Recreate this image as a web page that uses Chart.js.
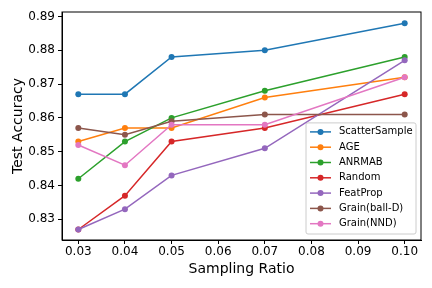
<!DOCTYPE html>
<html>
<head>
<meta charset="utf-8">
<script src="https://cdn.jsdelivr.net/npm/chart.js@4"></script>
<style>
  html, body { margin: 0; padding: 0; background: #fff; }
  #wrap { width: 432px; height: 288px; }
</style>
</head>
<body>
<div id="wrap"><canvas id="canvas" width="432" height="288"></canvas></div>
<script>
const ratios = [0.03, 0.04, 0.05, 0.07, 0.10];
const xTicks = [0.03, 0.04, 0.05, 0.06, 0.07, 0.08, 0.09, 0.10];
const yTicks = [0.83, 0.84, 0.85, 0.86, 0.87, 0.88, 0.89];

const scatterSample = [0.867, 0.867, 0.878, 0.880, 0.888];
const age = [0.853, 0.857, 0.857, 0.866, 0.872];
const anrmab = [0.842, 0.853, 0.860, 0.868, 0.878];
const random = [0.827, 0.837, 0.853, 0.857, 0.867];
const featProp = [0.827, 0.833, 0.843, 0.851, 0.877];
const grainBallD = [0.857, 0.855, 0.859, 0.861, 0.861];
const grainNND = [0.852, 0.846, 0.858, 0.858, 0.872];

const seriesNames = ['ScatterSample', 'AGE', 'ANRMAB', 'Random', 'FeatProp', 'Grain(ball-D)', 'Grain(NND)'];
const seriesValues = [scatterSample, age, anrmab, random, featProp, grainBallD, grainNND];
const colors = ['#1f77b4', '#ff7f0e', '#2ca02c', '#d62728', '#9467bd', '#8c564b', '#e377c2'];

const FONT = 'DejaVu Sans';

function newDataset(label, values, color, i) {
    return {
        label: label,
        data: values.map((v, k) => ({x: ratios[k], y: v})),
        borderColor: color,
        backgroundColor: color,
        borderWidth: 1.5,
        pointRadius: 3,
        pointBorderWidth: 0,
        pointHoverRadius: 3,
        tension: 0,
        fill: false,
        order: -i,
    };
}

const datasets = seriesNames.map((name, i) => newDataset(name, seriesValues[i], colors[i], i));

// box around the axes + legend in the lower right corner
const frame = {
    id: 'frame',
    afterDatasetsDraw(chart) {
        const {ctx, chartArea: a} = chart;
        ctx.save();
        ctx.strokeStyle = '#000';
        ctx.lineWidth = 1;
        ctx.strokeRect(a.left, a.top, a.right - a.left, a.bottom - a.top);

        const rowH = 15.3;
        const boxW = 110, boxH = rowH * seriesNames.length + 4;
        const bx = a.right - 5 - boxW, by = a.bottom - 6 - boxH;
        ctx.fillStyle = 'rgba(255,255,255,0.8)';
        ctx.strokeStyle = '#cccccc';
        ctx.beginPath();
        ctx.roundRect(bx, by, boxW, boxH, 2);
        ctx.fill();
        ctx.stroke();

        ctx.font = '10px "' + FONT + '"';
        ctx.textBaseline = 'middle';
        seriesNames.forEach((name, i) => {
            const y = by + 9 + i * rowH;
            ctx.strokeStyle = colors[i];
            ctx.lineWidth = 1.5;
            ctx.beginPath();
            ctx.moveTo(bx + 4, y);
            ctx.lineTo(bx + 25, y);
            ctx.stroke();
            ctx.fillStyle = colors[i];
            ctx.beginPath();
            ctx.arc(bx + 14.5, y, 3, 0, Math.PI * 2);
            ctx.fill();
            ctx.fillStyle = '#000';
            ctx.fillText(name, bx + 33, y);
        });
        ctx.restore();
    }
};

const ctx = document.getElementById('canvas').getContext('2d');
const myChart = new Chart(ctx, {
    type: 'line',
    data: { datasets: datasets },
    options: {
        responsive: false,
        animation: false,
        events: [],
        layout: { padding: { left: 0, top: 12, right: 11, bottom: 0 } },
        plugins: { legend: { display: false }, tooltip: { enabled: false } },
        scales: {
            x: {
                type: 'linear',
                min: 0.0265,
                max: 0.1035,
                afterBuildTicks: scale => { scale.ticks = xTicks.map(v => ({value: v})); },
                afterFit: scale => { scale.height = 48; },
                grid: { drawOnChartArea: false, drawTicks: true, tickLength: 4, color: '#000' },
                border: { color: '#000' },
                ticks: {
                    color: '#000', padding: 1, maxRotation: 0,
                    font: { family: FONT, size: 12 },
                    callback: v => v.toFixed(2),
                },
                title: {
                    display: true, text: 'Sampling Ratio', color: '#000',
                    font: { family: FONT, size: 14 },
                    padding: { top: 4, bottom: 10 },
                },
            },
            y: {
                min: 0.8239,
                max: 0.8913,
                afterBuildTicks: scale => { scale.ticks = yTicks.map(v => ({value: v})); },
                afterFit: scale => { scale.width = 62; },
                grid: { drawOnChartArea: false, drawTicks: true, tickLength: 4, color: '#000' },
                border: { color: '#000' },
                ticks: {
                    color: '#000', padding: 3,
                    font: { family: FONT, size: 12 },
                    callback: v => v.toFixed(2),
                },
                title: {
                    display: true, text: 'Test Accuracy', color: '#000',
                    font: { family: FONT, size: 14 },
                    padding: { top: 10, bottom: 4 },
                },
            },
        },
    },
    plugins: [frame],
});
</script>
</body>
</html>
